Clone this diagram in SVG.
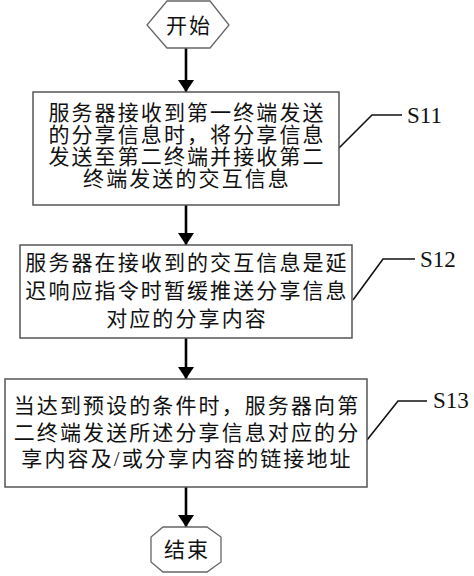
<svg xmlns="http://www.w3.org/2000/svg" width="474" height="576" viewBox="0 0 474 576">
<style>
.box{fill:#fff;stroke:#555;stroke-width:1.5}
.term{fill:#fff;stroke:#666;stroke-width:1.3}
.t{font-family:"Liberation Serif","Noto Sans CJK SC",serif;font-size:21px;fill:#111;text-anchor:middle;letter-spacing:2.1px}
.lbl{font-family:"Liberation Serif",serif;font-size:23px;fill:#111}
.flow{stroke:#000;stroke-width:2.6;fill:none}
.lead{stroke:#111;stroke-width:1.6;fill:none}
</style>
<defs>
<marker id="ah" markerWidth="12" markerHeight="16" refX="12" refY="8" orient="auto" markerUnits="userSpaceOnUse" viewBox="0 0 12 16">
<path d="M0,0 L12,8 L0,16 Z" fill="#000"/>
</marker>
</defs>
<g id="connectors">
<line class="flow" x1="186" y1="48" x2="186" y2="92" marker-end="url(#ah)"/>
<line class="flow" x1="186" y1="205" x2="186" y2="245" marker-end="url(#ah)"/>
<line class="flow" x1="186" y1="338" x2="186" y2="379" marker-end="url(#ah)"/>
<line class="flow" x1="186" y1="487" x2="186" y2="527" marker-end="url(#ah)"/>
<polyline class="lead" points="339,148 372,115 402,115"/>
<polyline class="lead" points="353,300 383,259 415,259"/>
<polyline class="lead" points="367,440 398,401 427,401"/>
</g>
<g id="start">
<polygon class="term" points="167,1 210,1 229,25 210,48 167,48 147,25"/>
<text class="t" x="189" y="33">开始</text>
</g>
<g id="s11">
<rect class="box" x="33" y="92" width="306" height="113"/>
<text class="t" x="187" y="119.5">服务器接收到第一终端发送</text>
<text class="t" x="187" y="142">的分享信息时，将分享信息</text>
<text class="t" x="187" y="164">发送至第二终端并接收第二</text>
<text class="t" x="187" y="186">终端发送的交互信息</text>
<text class="lbl" x="407" y="123">S11</text>
</g>
<g id="s12">
<rect class="box" x="20" y="245" width="332" height="93"/>
<text class="t" x="187" y="270">服务器在接收到的交互信息是延</text>
<text class="t" x="187" y="298">迟响应指令时暂缓推送分享信息</text>
<text class="t" x="187" y="326">对应的分享内容</text>
<text class="lbl" x="420" y="267">S12</text>
</g>
<g id="s13">
<rect class="box" x="5" y="379" width="362" height="108"/>
<text class="t" x="187" y="413">当达到预设的条件时，服务器向第</text>
<text class="t" x="187" y="440">二终端发送所述分享信息对应的分</text>
<text class="t" x="187" y="466">享内容及/或分享内容的链接地址</text>
<text class="lbl" x="433" y="408">S13</text>
</g>
<g id="end">
<polygon class="term" points="163,527 207,527 221,537 221,562 207,572 163,572 151,562 151,537"/>
<text class="t" x="187" y="557">结束</text>
</g>
</svg>
